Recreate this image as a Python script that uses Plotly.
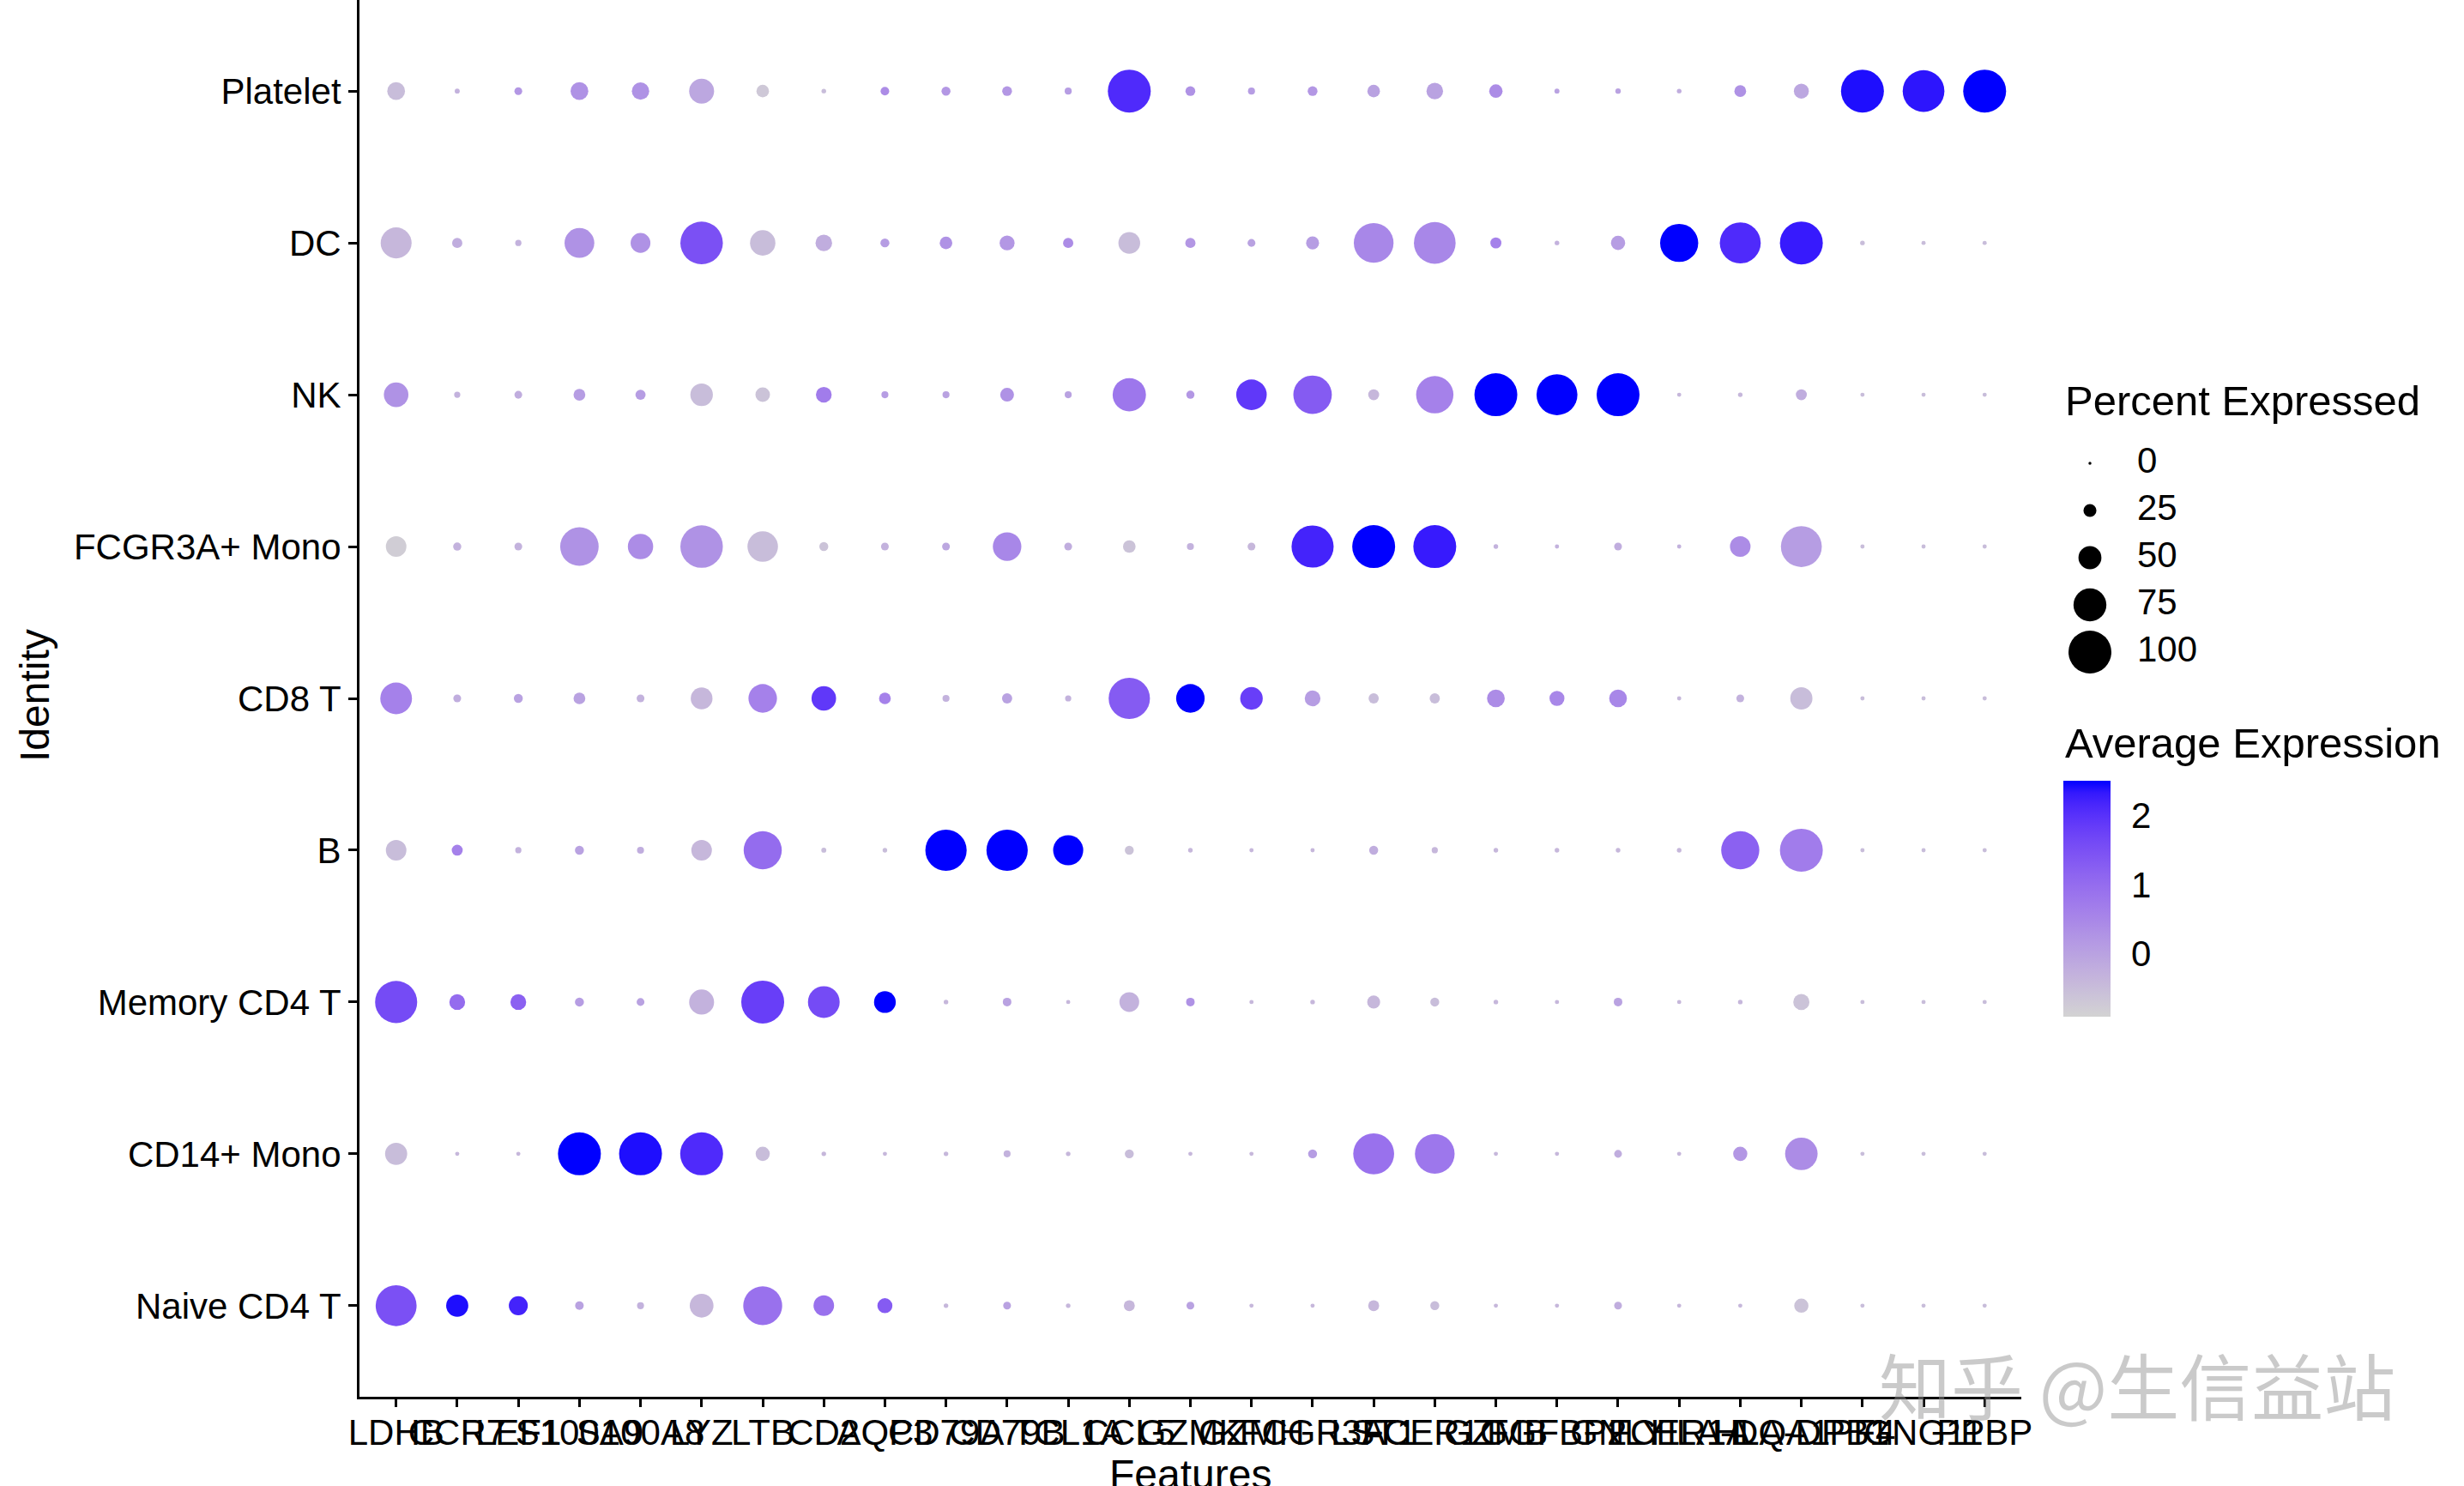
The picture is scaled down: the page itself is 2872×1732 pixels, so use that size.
import plotly.graph_objects as go

# ---------------- data ----------------
genes = ["LDHB", "CCR7", "LEF1", "S100A9", "S100A8", "LYZ", "LTB", "CD2", "AQP3",
         "CD79A", "CD79B", "TCL1A", "CCL5", "GZMK", "GZMH", "FCGR3A", "LST1", "FCER1G",
         "GZMB", "FGFBP2", "GNLY", "FCER1A", "HLA-DQA1", "HLA-DPB1", "PF4", "GNG11", "PPBP"]

# bottom -> top
clusters = ["Naive CD4 T", "CD14+ Mono", "Memory CD4 T", "B", "CD8 T",
            "FCGR3A+ Mono", "NK", "DC", "Platelet"]

pct_platelet = [37, 5, 12, 37, 36, 55, 24, 4, 14, 15, 17, 10, 100, 17, 10, 17, 24, 34, 26, 5, 6, 4, 22, 30, 100, 97, 100]
exp_platelet = [-0.5, -0.3, 0.2, 0.3, 0.3, -0.1, -0.7, -0.5, 0.4, 0.2, 0.2, 0.1, 2.1, 0.3, 0.1, 0.2, 0.0, 0.0, 0.4, 0.0, 0.0, -0.2, 0.3, -0.1, 2.4, 2.35, 2.5]

pct_dc = [70, 18, 8, 67, 42, 99, 56, 34, 15, 24, 30, 18, 47, 18, 12, 25, 92, 97, 20, 4, 28, 88, 95, 100, 4, 3, 3]
exp_dc = [-0.4, -0.2, -0.3, 0.3, 0.3, 1.5, -0.5, -0.2, 0.1, 0.3, 0.2, 0.4, -0.5, 0.2, 0.0, 0.1, 0.5, 0.5, 0.6, -0.3, 0.1, 2.5, 2.1, 2.3, -0.5, -0.5, -0.5]

pct_nk = [54, 8, 12, 22, 18, 49, 29, 32, 10, 10, 27, 10, 76, 13, 69, 89, 20, 86, 100, 95, 100, 3, 4, 20, 3, 3, 3]
exp_nk = [0.3, -0.3, -0.2, 0.1, 0.1, -0.5, -0.6, 0.7, 0.1, 0.0, 0.3, 0.0, 0.8, 0.2, 1.9, 1.3, -0.4, 0.6, 2.5, 2.5, 2.5, -0.4, -0.4, -0.2, -0.5, -0.5, -0.5]

pct_fcgr3a = [44, 13, 12, 89, 56, 99, 69, 15, 12, 12, 64, 12, 24, 10, 12, 98, 100, 100, 4, 3, 12, 3, 44, 95, 3, 3, 3]
exp_fcgr3a = [-0.8, -0.3, -0.3, 0.3, 0.4, 0.3, -0.5, -0.6, -0.3, -0.1, 0.5, -0.2, -0.6, -0.3, -0.4, 2.2, 2.5, 2.3, -0.3, -0.3, -0.2, -0.3, 0.4, 0.1, -0.5, -0.5, -0.5]

pct_cd8t = [72, 12, 15, 22, 12, 47, 64, 54, 22, 10, 18, 8, 96, 64, 49, 32, 18, 18, 37, 30, 37, 3, 12, 48, 3, 3, 3]
exp_cd8t = [0.6, -0.2, 0.0, 0.0, -0.3, -0.4, 0.6, 1.9, 0.6, -0.3, 0.0, -0.3, 1.3, 2.5, 1.8, 0.1, -0.5, -0.5, 0.4, 0.5, 0.5, -0.4, -0.3, -0.5, -0.5, -0.5, -0.5]

pct_b = [44, 20, 8, 15, 10, 44, 88, 5, 4, 96, 96, 68, 15, 4, 3, 3, 15, 8, 4, 4, 4, 4, 88, 100, 3, 3, 3]
exp_b = [-0.5, 0.6, -0.3, 0.0, -0.2, -0.4, 1.0, -0.5, -0.5, 2.5, 2.5, 2.5, -0.6, -0.4, -0.4, -0.4, -0.2, -0.4, -0.4, -0.4, -0.4, -0.4, 1.2, 0.7, -0.5, -0.5, -0.5]

pct_memcd4 = [98, 32, 32, 15, 12, 55, 100, 72, 47, 4, 14, 3, 42, 14, 3, 4, 25, 15, 4, 3, 14, 3, 4, 33, 3, 3, 3]
exp_memcd4 = [1.6, 1.0, 1.2, 0.1, 0.0, -0.3, 1.8, 1.6, 2.5, -0.4, 0.0, -0.4, -0.3, 0.3, -0.4, -0.4, -0.4, -0.5, -0.4, -0.4, 0.0, -0.4, -0.4, -0.6, -0.5, -0.5, -0.5]

pct_cd14 = [48, 3, 3, 100, 100, 100, 28, 4, 3, 4, 10, 4, 15, 3, 3, 15, 95, 92, 3, 3, 12, 3, 28, 74, 3, 3, 3]
exp_cd14 = [-0.5, -0.4, -0.4, 2.5, 2.4, 2.1, -0.5, -0.4, -0.4, -0.4, -0.3, -0.4, -0.5, -0.4, -0.4, 0.1, 0.9, 0.8, -0.4, -0.4, -0.2, -0.4, 0.2, 0.4, -0.5, -0.5, -0.5]

pct_naive = [95, 48, 40, 14, 10, 52, 90, 44, 30, 4, 12, 4, 20, 12, 3, 3, 20, 15, 3, 3, 12, 3, 3, 28, 3, 3, 3]
exp_naive = [1.5, 2.4, 2.2, 0.0, -0.3, -0.4, 0.9, 0.9, 1.3, -0.4, 0.0, -0.4, -0.4, 0.0, -0.4, -0.4, -0.4, -0.5, -0.4, -0.4, -0.2, -0.4, -0.4, -0.6, -0.5, -0.5, -0.5]

size_breaks = [0, 25, 50, 75, 100]
color_ticks = [0, 1, 2]
color_min, color_max = -0.91, 2.5

pct_rows = [pct_naive, pct_cd14, pct_memcd4, pct_b, pct_cd8t, pct_fcgr3a, pct_nk, pct_dc, pct_platelet]
exp_rows = [exp_naive, exp_cd14, exp_memcd4, exp_b, exp_cd8t, exp_fcgr3a, exp_nk, exp_dc, exp_platelet]

# ---------------- colour scale: lightgrey -> blue interpolated in CIELAB ----------------
def _lin(c):
    c = c / 255.0
    return c / 12.92 if c <= 0.04045 else ((c + 0.055) / 1.055) ** 2.4

def _delin(c):
    c = 12.92 * c if c <= 0.0031308 else 1.055 * c ** (1 / 2.4) - 0.055
    return max(0, min(255, round(c * 255)))

WX, WY, WZ = 0.95047, 1.0, 1.08883

def rgb2lab(rgb):
    r, g, b = [_lin(v) for v in rgb]
    X = 0.4124 * r + 0.3576 * g + 0.1805 * b
    Y = 0.2126 * r + 0.7152 * g + 0.0722 * b
    Z = 0.0193 * r + 0.1192 * g + 0.9505 * b
    def f(t):
        return t ** (1 / 3) if t > 0.008856 else 7.787 * t + 16 / 116
    fx, fy, fz = f(X / WX), f(Y / WY), f(Z / WZ)
    return (116 * fy - 16, 500 * (fx - fy), 200 * (fy - fz))

def lab2rgb(lab):
    L, a, b = lab
    fy = (L + 16) / 116
    fx = fy + a / 500
    fz = fy - b / 200
    def finv(t):
        return t ** 3 if t ** 3 > 0.008856 else (t - 16 / 116) / 7.787
    X, Y, Z = WX * finv(fx), WY * finv(fy), WZ * finv(fz)
    r = 3.2406 * X - 1.5372 * Y - 0.4986 * Z
    g = -0.9689 * X + 1.8758 * Y + 0.0415 * Z
    bb = 0.0557 * X - 0.2040 * Y + 1.0570 * Z
    return tuple(_delin(max(0.0, v)) for v in (r, g, bb))

lo, hi = rgb2lab((211, 211, 211)), rgb2lab((0, 0, 255))
colorscale = []
N = 20
for i in range(N + 1):
    t = i / N
    lab = tuple(lo[k] + (hi[k] - lo[k]) * t for k in range(3))
    r, g, b = lab2rgb(lab)
    colorscale.append([t, f"rgb({r},{g},{b})"])

# ---------------- size scale (radius linear in percent) ----------------
D_MIN, D_MAX = 3.5, 50.0

def dot_size(p):
    return D_MIN + (D_MAX - D_MIN) * p / 100.0

xs, ys, ss, cs = [], [], [], []
for ci, cl in enumerate(clusters):
    for gi, g in enumerate(genes):
        xs.append(g)
        ys.append(cl)
        ss.append(dot_size(pct_rows[ci][gi]))
        cs.append(exp_rows[ci][gi])

W, H = 2872, 1732
PL, PR, PT, PB = 419, 2356, 0, 1628  # plot area in px
FONT = "Liberation Sans, Arial, Helvetica, sans-serif"

fig = go.Figure()
fig.add_trace(go.Scatter(
    x=xs, y=ys, mode="markers",
    marker=dict(size=ss, color=cs, colorscale=colorscale, cmin=color_min, cmax=color_max,
                line=dict(width=0), opacity=1,
                colorbar=dict(
                    x=2405 / W, xanchor="left", y=1 - 1047.5 / H, yanchor="middle",
                    thickness=55, thicknessmode="pixels", len=275, lenmode="pixels",
                    xpad=0, ypad=0, outlinewidth=0,
                    tickvals=color_ticks, ticktext=[str(v) for v in color_ticks],
                    ticks="outside", ticklen=16, tickwidth=1, tickcolor="rgba(0,0,0,0)",
                    tickfont=dict(size=42, color="black", family=FONT),
                    title=dict(text=""))),
    opacity=1, hoverinfo="skip", showlegend=False, xaxis="x", yaxis="y"))

# size legend (Percent Expressed)
leg_x, leg_y0, leg_dy, lab_x = 2436, 540, 55, 2491
fig.add_trace(go.Scatter(
    x=[leg_x] * len(size_breaks), y=[leg_y0 + i * leg_dy for i in range(len(size_breaks))],
    mode="markers", marker=dict(size=[dot_size(b) for b in size_breaks], color="#000000",
                                opacity=1, line=dict(width=0)),
    opacity=1, xaxis="x2", yaxis="y2", hoverinfo="skip", showlegend=False))
fig.add_trace(go.Scatter(
    x=[lab_x] * len(size_breaks), y=[leg_y0 + i * leg_dy for i in range(len(size_breaks))],
    mode="text", text=[str(b) for b in size_breaks], textposition="middle right",
    textfont=dict(size=42, color="black", family=FONT),
    xaxis="x2", yaxis="y2", hoverinfo="skip", showlegend=False))

fig.update_layout(
    width=W, height=H, margin=dict(l=0, r=0, t=0, b=0),
    paper_bgcolor="white", plot_bgcolor="white",
    font=dict(family=FONT, color="black"),
    hovermode=False,
    xaxis=dict(domain=[PL / W, PR / W], type="category", categoryorder="array", categoryarray=genes,
               range=[-0.6, len(genes) - 0.4], showgrid=False, zeroline=False,
               showline=True, linecolor="black", linewidth=3,
               ticks="outside", ticklen=9, tickwidth=2.5, tickcolor="black", tickangle=0,
               ticklabelstandoff=-6,
               tickfont=dict(size=42, color="black", family=FONT), automargin=False),
    yaxis=dict(domain=[1 - PB / H, 1 - PT / H], type="category", categoryorder="array", categoryarray=clusters,
               range=[-0.6, len(clusters) - 0.4], showgrid=False, zeroline=False,
               showline=True, linecolor="black", linewidth=3,
               ticks="outside", ticklen=10, tickwidth=2.5, tickcolor="black",
               tickfont=dict(size=42, color="black", family=FONT), automargin=False),
    xaxis2=dict(domain=[2380 / W, 1.0], range=[2380, W], visible=False, anchor="y2"),
    yaxis2=dict(domain=[0.0, 1.0], range=[H, 0], visible=False, anchor="x2"),
    annotations=[
        dict(text="Features", x=(PL + PR) / 2 / W, y=1 - 1718 / H, xref="paper", yref="paper",
             showarrow=False, xanchor="center", yanchor="middle", font=dict(size=48, color="black")),
        dict(text="Identity", x=40 / W, y=1 - 811 / H, xref="paper", yref="paper", textangle=-90,
             showarrow=False, xanchor="center", yanchor="middle", font=dict(size=48, color="black")),
        dict(text="Percent Expressed", x=2405 / W, y=1 - 467 / H, xref="paper", yref="paper",
             showarrow=False, xanchor="left", yanchor="middle", font=dict(size=49, color="black")),
        dict(text="Average Expression", x=2405 / W, y=1 - 866 / H, xref="paper", yref="paper",
             showarrow=False, xanchor="left", yanchor="middle", font=dict(size=49, color="black")),
        dict(text="知乎 @生信益站", x=2491 / W, y=1 - 1612 / H, xref="paper", yref="paper",
             showarrow=False, xanchor="center", yanchor="middle",
             font=dict(size=84, color="rgba(150,150,150,0.5)", family="Noto Sans CJK SC")),
    ],
)

fig.write_html("out.html", config={"displayModeBar": False},
               post_script="document.body.style.margin='0';document.body.style.overflow='hidden';")
